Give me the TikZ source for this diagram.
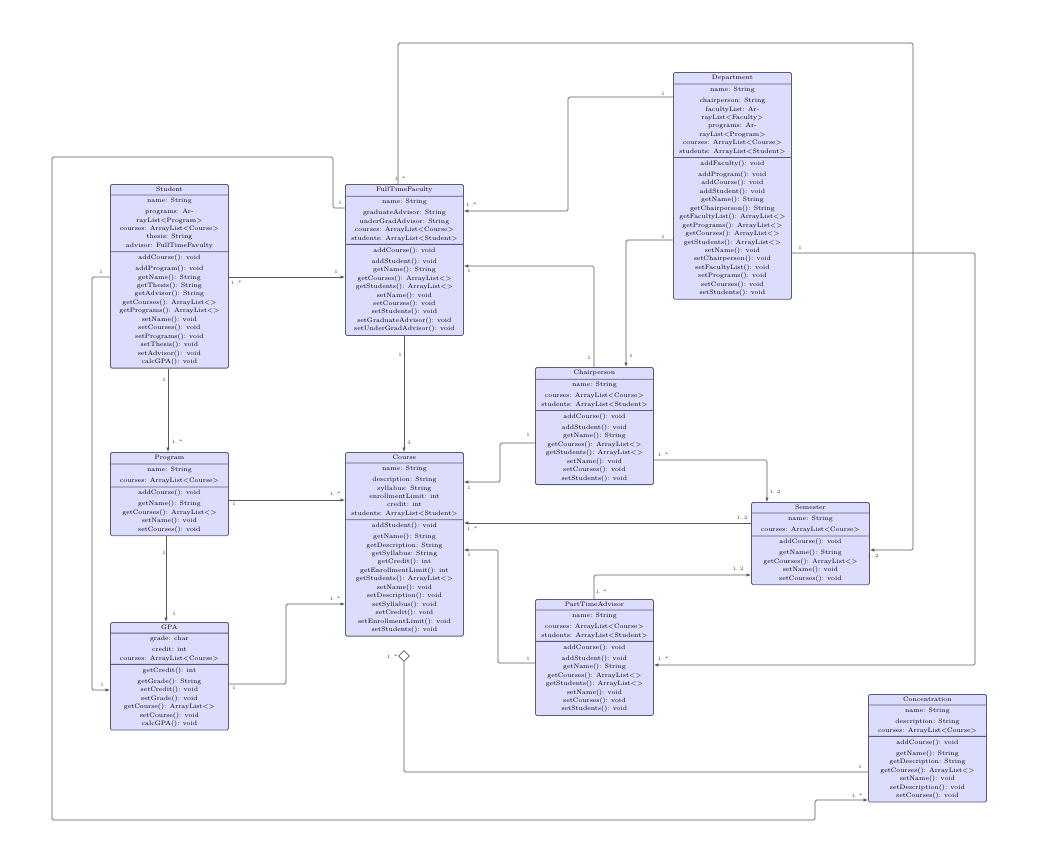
\documentclass[tikz,border=0pt]{standalone}
\usepackage{fontspec}
\usetikzlibrary{shapes.multipart,shapes.geometric,arrows.meta}
\definecolor{boxfill}{HTML}{DCDCFC}
\definecolor{boxline}{HTML}{5A5A80}
\definecolor{wire}{HTML}{5A5A5A}
\newcommand\pad[1]{\vspace*{2.6pt}#1\par\vspace*{2.6pt}}
\tikzset{
  uml/.style={rectangle split,rectangle split parts=3,draw=boxline,fill=boxfill,line width=0.8pt,
    rounded corners=1.5pt,anchor=north west,text width=108pt,inner xsep=5pt,inner ysep=2.6pt,
    align=center,font=\fontsize{6.4}{8.45}\selectfont},
  conn/.style={draw=wire,line width=0.7pt,rounded corners=1.5pt,-{Latex[length=4.5pt,width=3.5pt]}},
  plain/.style={draw=wire,line width=0.7pt,rounded corners=1.5pt},
  lbl/.style={font=\fontsize{5}{6}\selectfont,inner sep=0pt,text=black!80}
}
\begin{document}
\begin{tikzpicture}[x=1pt,y=-1pt]
\useasboundingbox (0,0) rectangle (1040,863);

\node[uml] (stu) at (110,184) {Student\nodepart{two}\pad{name: String\\programs: ArrayList<Program>\\courses: ArrayList<Course>\\thesis: String\\advisor: FullTimeFavulty}\nodepart{three}\pad{addCourse(): void\\addProgram(): void\\getName(): String\\getThesis(): String\\getAdvisor(): String\\getCourses(): ArrayList<>\\getPrograms(): ArrayList<>\\setName(): void\\setCourses(): void\\setPrograms(): void\\setThesis(): void\\setAdvisor():\ \ void\\calcGPA(): void}};

\node[uml] (ftf) at (345,184) {FullTimeFaculty\nodepart{two}\pad{name: String\\graduateAdvisor: String\\underGradAdvisor: String\\courses: ArrayList<Course>\\students: ArrayList<Student>}\nodepart{three}\pad{addCourse(): void\\addStudent(): void\\getName(): String\\getCourses(): ArrayList<>\\getStudents(): ArrayList<>\\setName(): void\\setCourses(): void\\setStudents(): void\\setGraduateAdvisor(): void\\setUnderGradAdvisor(): void}};

\node[uml] (dep) at (673,72) {Department\nodepart{two}\pad{name: String\\chairperson: String\\facultyList: ArrayList<Faculty>\\programs: ArrayList<Program>\\courses: ArrayList<Course>\\students: ArrayList<Student>}\nodepart{three}\pad{addFaculty(): void\\addProgram(): void\\addCourse(): void\\addStudent(): void\\getName(): String\\getChairperson(): String\\getFacultyList(): ArrayList<>\\getPrograms(): ArrayList<>\\getCourses(): ArrayList<>\\getStudents(): ArrayList<>\\setName(): void\\setChairperson(): void\\setFacultyList(): void\\setPrograms(): void\\setCourses(): void\\setStudents(): void}};

\node[uml] (chair) at (535,367) {Chairperson\nodepart{two}\pad{name: String\\courses: ArrayList<Course>\\students: ArrayList<Student>}\nodepart{three}\pad{addCourse(): void\\addStudent(): void\\getName(): String\\getCourses(): ArrayList<>\\getStudents(): ArrayList<>\\setName(): void\\setCourses(): void\\setStudents(): void}};

\node[uml] (course) at (345,452) {Course\nodepart{two}\pad{name: String\\description: String\\syllabus: String\\enrollmentLimit: int\\credit: int\\students: ArrayList<Student>}\nodepart{three}\pad{addStudent(): void\\getName(): String\\getDescription: String\\getSyllabus: String\\getCredit(): int\\getEnrollmentLimit(): int\\getStudents(): ArrayList<>\\setName(): void\\setDescription(): void\\setSyllabus(): void\\setCredit(): void\\setEnrollmentLimit(): void\\setStudents(): void}};

\node[uml] (prog) at (110,452) {Program\nodepart{two}\pad{name: String\\courses: ArrayList<Course>}\nodepart{three}\pad{addCourse(): void\\getName(): String\\getCourses(): ArrayList<>\\setName(): void\\setCourses(): void}};

\node[uml] (gpa) at (110,622) {GPA\nodepart{two}\pad{grade: char\\credit: int\\courses: ArrayList<Course>}\nodepart{three}\pad{getCredit(): int\\getGrade(): String\\setCredit(): void\\setGrade(): void\\getCourse(): ArrayList<>\\setCourse(): void\\calcGPA(): void}};

\node[uml] (sem) at (751,502) {Semester\nodepart{two}\pad{name: String\\courses: ArrayList<Course>}\nodepart{three}\pad{addCourse(): void\\getName(): String\\getCourses(): ArrayList<>\\setName(): void\\setCourses(): void}};

\node[uml] (pta) at (535,599) {PartTimeAdvisor\nodepart{two}\pad{name: String\\courses: ArrayList<Course>\\students: ArrayList<Student>}\nodepart{three}\pad{addCourse(): void\\addStudent(): void\\getName(): String\\getCourses(): ArrayList<>\\getStudents(): ArrayList<>\\setName(): void\\setCourses(): void\\setStudents(): void}};

\node[uml] (conc) at (868,694) {Concentration\nodepart{two}\pad{name: String\\description: String\\courses: ArrayList<Course>}\nodepart{three}\pad{addCourse(): void\\getName(): String\\getDescription: String\\getCourses(): ArrayList<>\\setName(): void\\setDescription(): void\\setCourses(): void}};

% connectors
\draw[conn] (ftf.west |- 0,208) -- (333,208) -- (333,157) -- (52,157) -- (52,820) -- (815,820) -- (815,800) -- (conc.west |- 0,800);
\node[lbl] at (340,203) {1}; \node[lbl] at (857,796) {1..*};

\draw[conn] (398,0 |- ftf.north) -- (398,43) -- (913,43) -- (913,550) -- (sem.east |- 0,550);
\node[lbl] at (400,179) {1..*}; \node[lbl] at (873,556) {1..2};

\draw[conn] (dep.east |- 0,253) -- (975,253) -- (975,665) -- (pta.east |- 0,665);
\node[lbl] at (800,248) {1}; \node[lbl] at (663,659) {1..*};

\draw[conn] (dep.west |- 0,97) -- (568,97) -- (568,211) -- (ftf.east |- 0,211);
\node[lbl] at (663,94) {1}; \node[lbl] at (471,205) {1..*};

\draw[conn] (dep.west |- 0,240) -- (626,240) -- (626,0 |- chair.north);
\node[lbl] at (663,237) {1}; \node[lbl] at (631,356) {1};

\draw[conn] (594,0 |- chair.north) -- (594,266) -- (ftf.east |- 0,266);
\node[lbl] at (589,358) {1}; \node[lbl] at (469,271) {1};

\draw[conn] (stu.east |- 0,277) -- (ftf.west |- 0,277);
\node[lbl] at (236,283) {1..*}; \node[lbl] at (336,272) {1};

\draw[conn] (stu.west |- 0,277) -- (92,277) -- (92,690) -- (gpa.west |- 0,690);
\node[lbl] at (101,272) {1}; \node[lbl] at (102,685) {1};

\draw[conn] (168,0 |- stu.south) -- (168,0 |- prog.north);
\node[lbl] at (164,380) {1}; \node[lbl] at (177,442) {1..*};

\draw[conn] (prog.east |- 0,500) -- (course.west |- 0,500);
\node[lbl] at (234,504) {1}; \node[lbl] at (335,494) {1..*};

\draw[conn] (166,0 |- prog.south) -- (166,0 |- gpa.north);
\node[lbl] at (164,553) {1}; \node[lbl] at (174,614) {1};

\draw[conn] (gpa.east |- 0,684) -- (286,684) -- (286,604) -- (course.west |- 0,604);
\node[lbl] at (234,688) {1}; \node[lbl] at (335,599) {1..*};

\draw[conn] (404,0 |- ftf.south) -- (404,0 |- course.north);
\node[lbl] at (400,355) {1}; \node[lbl] at (409,443) {3};

\draw[conn] (chair.west |- 0,443) -- (500,443) -- (500,482) -- (course.east |- 0,482);
\node[lbl] at (528,435) {1}; \node[lbl] at (469,488) {1};

\draw[conn] (sem.west |- 0,523) -- (course.east |- 0,523);
\node[lbl] at (742,518) {1..2}; \node[lbl] at (472,529) {1..*};

\draw[conn] (pta.west |- 0,663) -- (498,663) -- (498,550) -- (course.east |- 0,550);
\node[lbl] at (528,659) {1}; \node[lbl] at (469,555) {1};

\draw[conn] (594,0 |- pta.north) -- (594,575) -- (sem.west |- 0,575);
\node[lbl] at (601,592) {1..*}; \node[lbl] at (738,569) {1..2};

\draw[conn] (chair.east |- 0,460) -- (767,460) -- (767,0 |- sem.north);
\node[lbl] at (663,455) {1..*}; \node[lbl] at (775,492) {1..2};

\node[draw=wire,fill=white,line width=0.7pt,diamond,shape aspect=1,inner sep=0pt,minimum size=11pt] (dia) at (404,656) {};
\draw[plain] (dia.south) -- (404,772) -- (conc.west |- 0,772);
\node[lbl] at (392,657) {1..*}; \node[lbl] at (860,767) {1};
\end{tikzpicture}
\end{document}
